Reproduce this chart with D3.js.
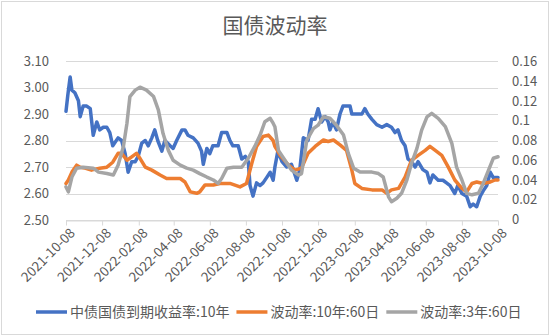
<!DOCTYPE html>
<html><head><meta charset="utf-8">
<script src="https://cdn.jsdelivr.net/npm/d3@7"></script>
<style>
html,body{margin:0;padding:0;background:#fff;}
svg{display:block;font-family:"Noto Sans CJK SC","Noto Sans",sans-serif;}
</style></head>
<body>
<svg id="chart" width="550" height="336"></svg>
<script>
const title = "国债波动率";
const seriesNames = ["中债国债到期收益率:10年", "波动率:10年:60日", "波动率:3年:60日"];
const xTickLabels = ["2021-10-08","2021-12-08","2022-02-08","2022-04-08","2022-06-08","2022-08-08","2022-10-08","2022-12-08","2023-02-08","2023-04-08","2023-06-08","2023-08-08","2023-10-08"];
const leftTicks = [2.50, 2.60, 2.70, 2.80, 2.90, 3.00, 3.10];
const rightTicks = [0, 0.02, 0.04, 0.06, 0.08, 0.1, 0.12, 0.14, 0.16];

// 中债国债到期收益率:10年 (left axis)
const yieldDates = ["2021-10-08","2021-10-11","2021-10-15","2021-10-18","2021-10-23","2021-10-29","2021-11-01","2021-11-06","2021-11-12","2021-11-18","2021-11-23","2021-11-29","2021-12-04","2021-12-10","2021-12-16","2021-12-21","2021-12-26","2022-01-04","2022-01-10","2022-01-16","2022-01-21","2022-01-27","2022-02-02","2022-02-07","2022-02-13","2022-02-19","2022-02-24","2022-03-02","2022-03-07","2022-03-12","2022-03-19","2022-03-24","2022-04-02","2022-04-07","2022-04-13","2022-04-22","2022-04-27","2022-05-02","2022-05-11","2022-05-19","2022-05-25","2022-05-28","2022-06-03","2022-06-08","2022-06-13","2022-06-22","2022-06-28","2022-07-07","2022-07-12","2022-07-17","2022-07-26","2022-08-01","2022-08-07","2022-08-12","2022-08-15","2022-08-20","2022-08-26","2022-09-01","2022-09-06","2022-09-12","2022-09-18","2022-09-23","2022-09-26","2022-10-01","2022-10-08","2022-10-16","2022-10-24","2022-11-02","2022-11-07","2022-11-13","2022-11-21","2022-11-27","2022-12-03","2022-12-08","2022-12-14","2022-12-20","2022-12-25","2022-12-28","2023-01-02","2023-01-08","2023-01-14","2023-01-19","2023-01-25","2023-01-31","2023-02-03","2023-02-11","2023-02-20","2023-02-25","2023-03-02","2023-03-09","2023-03-17","2023-03-26","2023-04-03","2023-04-11","2023-04-17","2023-04-22","2023-04-28","2023-05-04","2023-05-09","2023-05-15","2023-05-21","2023-05-26","2023-06-03","2023-06-10","2023-06-15","2023-06-20","2023-06-29","2023-07-07","2023-07-13","2023-07-19","2023-07-27","2023-08-01","2023-08-08","2023-08-16","2023-08-22","2023-08-27","2023-09-02","2023-09-08","2023-09-13","2023-09-19","2023-09-25","2023-09-30","2023-10-08"];
const yieldValues = [2.91,2.97,3.04,2.99,2.98,2.95,2.89,2.93,2.93,2.92,2.82,2.87,2.84,2.85,2.85,2.83,2.78,2.81,2.80,2.75,2.68,2.72,2.72,2.74,2.79,2.80,2.78,2.81,2.84,2.80,2.76,2.80,2.78,2.77,2.80,2.84,2.84,2.82,2.81,2.79,2.76,2.71,2.77,2.75,2.78,2.78,2.83,2.83,2.80,2.78,2.78,2.73,2.74,2.72,2.63,2.59,2.64,2.63,2.64,2.66,2.68,2.65,2.70,2.76,2.72,2.70,2.71,2.65,2.69,2.81,2.80,2.88,2.88,2.92,2.87,2.89,2.87,2.84,2.87,2.84,2.90,2.93,2.93,2.93,2.90,2.90,2.90,2.92,2.90,2.88,2.86,2.85,2.86,2.85,2.83,2.84,2.80,2.78,2.73,2.72,2.70,2.72,2.69,2.68,2.64,2.67,2.65,2.65,2.64,2.63,2.60,2.63,2.60,2.59,2.55,2.56,2.55,2.59,2.61,2.63,2.68,2.66,2.66];

// 波动率:10年:60日 (right axis)
const vol10Dates = ["2021-10-08","2021-10-12","2021-10-18","2021-10-26","2021-11-01","2021-11-09","2021-11-20","2021-12-04","2021-12-16","2021-12-26","2022-01-04","2022-01-10","2022-01-19","2022-01-27","2022-02-04","2022-02-10","2022-02-19","2022-03-02","2022-03-16","2022-03-27","2022-04-19","2022-04-27","2022-05-06","2022-05-17","2022-05-22","2022-05-31","2022-06-14","2022-06-25","2022-07-12","2022-07-29","2022-08-09","2022-08-18","2022-08-26","2022-09-06","2022-09-15","2022-09-23","2022-09-26","2022-10-05","2022-10-19","2022-10-30","2022-11-10","2022-11-21","2022-12-03","2022-12-17","2022-12-25","2023-01-03","2023-01-14","2023-01-25","2023-02-03","2023-02-08","2023-02-20","2023-03-09","2023-03-26","2023-04-03","2023-04-11","2023-04-23","2023-05-04","2023-05-15","2023-05-26","2023-06-07","2023-06-15","2023-06-24","2023-07-05","2023-07-16","2023-07-27","2023-08-08","2023-08-16","2023-08-25","2023-09-02","2023-09-13","2023-09-25","2023-10-03","2023-10-08"];
const vol10Values = [0.0365,0.040,0.048,0.055,0.053,0.052,0.050,0.052,0.053,0.058,0.067,0.067,0.060,0.0635,0.067,0.062,0.053,0.050,0.045,0.0415,0.0415,0.038,0.028,0.0265,0.028,0.035,0.035,0.0365,0.0365,0.033,0.0365,0.057,0.074,0.084,0.0855,0.080,0.074,0.065,0.055,0.050,0.052,0.067,0.074,0.0805,0.079,0.0805,0.0755,0.070,0.050,0.0365,0.0315,0.030,0.030,0.0265,0.030,0.0315,0.043,0.060,0.065,0.070,0.074,0.070,0.065,0.053,0.040,0.0315,0.028,0.0365,0.038,0.0365,0.038,0.040,0.040];

// 波动率:3年:60日 (right axis)
const vol3Dates = ["2021-10-08","2021-10-12","2021-10-18","2021-10-26","2021-11-06","2021-11-23","2021-12-02","2021-12-16","2021-12-27","2022-01-04","2022-01-13","2022-01-19","2022-01-24","2022-02-02","2022-02-10","2022-02-21","2022-03-05","2022-03-13","2022-03-21","2022-03-30","2022-04-07","2022-04-19","2022-04-30","2022-05-11","2022-05-22","2022-06-03","2022-06-14","2022-06-22","2022-06-28","2022-07-07","2022-07-18","2022-08-01","2022-08-12","2022-08-23","2022-09-01","2022-09-09","2022-09-18","2022-09-23","2022-09-26","2022-10-02","2022-10-13","2022-10-24","2022-11-05","2022-11-10","2022-11-19","2022-11-30","2022-12-08","2022-12-17","2022-12-28","2023-01-08","2023-01-20","2023-01-28","2023-02-06","2023-02-17","2023-02-25","2023-03-09","2023-03-20","2023-03-28","2023-04-06","2023-04-11","2023-04-20","2023-04-28","2023-05-07","2023-05-15","2023-05-24","2023-06-01","2023-06-10","2023-06-18","2023-06-29","2023-07-11","2023-07-22","2023-07-30","2023-08-08","2023-08-16","2023-08-25","2023-09-05","2023-09-13","2023-09-22","2023-09-30","2023-10-08"];
const vol3Values = [0.033,0.028,0.043,0.052,0.053,0.052,0.048,0.0465,0.045,0.055,0.074,0.0975,0.1245,0.131,0.134,0.131,0.1245,0.111,0.087,0.070,0.060,0.055,0.052,0.050,0.0465,0.043,0.040,0.0365,0.0415,0.052,0.053,0.053,0.062,0.074,0.0855,0.099,0.1025,0.0975,0.094,0.070,0.060,0.050,0.045,0.0465,0.0805,0.092,0.0955,0.104,0.1025,0.0955,0.0855,0.067,0.052,0.048,0.048,0.048,0.0465,0.043,0.023,0.018,0.0215,0.0265,0.040,0.057,0.072,0.0905,0.104,0.1075,0.1025,0.094,0.077,0.053,0.040,0.0265,0.025,0.0265,0.0365,0.050,0.062,0.0635];

const colors = ["#4472C4", "#ED7D31", "#A5A5A5"];
const parse = d3.timeParse("%Y-%m-%d");
const svg = d3.select("#chart");
const textColor = "#595959", gridColor = "#d9d9d9";

// outer border
svg.append("rect").attr("x", 1.5).attr("y", 1.5).attr("width", 547).attr("height", 333)
  .attr("fill", "#fff").attr("stroke", gridColor).attr("stroke-width", 1);

const plot = {left: 66, right: 498, top: 61, bottom: 220};
const x = d3.scaleTime().domain([parse(xTickLabels[0]), parse(xTickLabels[xTickLabels.length - 1])]).range([plot.left, plot.right]);
const yL = d3.scaleLinear().domain([2.5, 3.1]).range([plot.bottom, plot.top]);
const yR = d3.scaleLinear().domain([0, 0.16]).range([plot.bottom - 0.5, plot.top + 0.5]);

// title
svg.append("text").attr("x", 275).attr("y", 33).attr("text-anchor", "middle")
  .attr("font-size", 21).attr("fill", textColor).text(title);

// gridlines (left axis)
svg.append("g").selectAll("line").data(leftTicks).join("line")
  .attr("x1", plot.left).attr("x2", plot.right)
  .attr("y1", d => Math.round(yL(d)) + 0.5).attr("y2", d => Math.round(yL(d)) + 0.5)
  .attr("stroke", gridColor).attr("stroke-width", 1);

// left axis
const gL = svg.append("g").attr("transform", `translate(${plot.left - 6},0)`)
  .call(d3.axisLeft(yL).tickValues(leftTicks).tickFormat(d3.format(".2f")).tickSize(0).tickPadding(11));
gL.select(".domain").remove();
gL.selectAll("text").attr("font-size", 13).attr("fill", textColor).attr("font-family", "Noto Sans CJK SC");

// right axis
const gR = svg.append("g").attr("transform", `translate(${plot.right + 3},0)`)
  .call(d3.axisRight(yR).tickValues(rightTicks).tickFormat(d => d === 0 ? "0" : String(+d.toFixed(2))).tickSize(0).tickPadding(11));
gR.select(".domain").remove();
gR.selectAll("text").attr("font-size", 13).attr("fill", textColor).attr("font-family", "Noto Sans CJK SC");

// bottom axis
const gX = svg.append("g").attr("transform", `translate(0,${plot.bottom + 0.5})`)
  .call(d3.axisBottom(x).tickValues(xTickLabels.map(parse)).tickFormat(d3.timeFormat("%Y-%m-%d")).tickSize(5).tickSizeOuter(0));
gX.select(".domain").attr("stroke", gridColor);
gX.selectAll(".tick line").attr("stroke", gridColor);
gX.selectAll("text").attr("font-size", 13.5).attr("fill", textColor).attr("font-family", "Noto Sans CJK SC")
  .attr("text-anchor", "end").attr("transform", "translate(6,10) rotate(-45)").attr("dy", "0.35em").attr("y", 0).attr("x", 0);

// lines
const series = [
  {dates: yieldDates, values: yieldValues, y: yL},
  {dates: vol10Dates, values: vol10Values, y: yR},
  {dates: vol3Dates, values: vol3Values, y: yR}
];
series.forEach((s, i) => {
  const pts = s.dates.map((d, j) => [parse(d), s.values[j]]);
  const line = d3.line().x(p => x(p[0])).y(p => s.y(p[1]));
  svg.append("path").datum(pts).attr("d", line).attr("fill", "none")
    .attr("stroke", colors[i]).attr("stroke-width", 3.5).attr("stroke-linejoin", "round").attr("stroke-linecap", "round");
});

// legend
const legY = 312;
let lx = 36;
seriesNames.forEach((name, i) => {
  svg.append("line").attr("x1", lx).attr("x2", lx + 31).attr("y1", legY).attr("y2", legY)
    .attr("stroke", colors[i]).attr("stroke-width", 3.5);
  const t = svg.append("text").attr("x", lx + 34).attr("y", legY).attr("dy", "0.36em")
    .attr("font-size", 14).attr("fill", textColor).text(name);
  lx = lx + 34 + t.node().getComputedTextLength() + 7;
});
</script>
</body></html>
